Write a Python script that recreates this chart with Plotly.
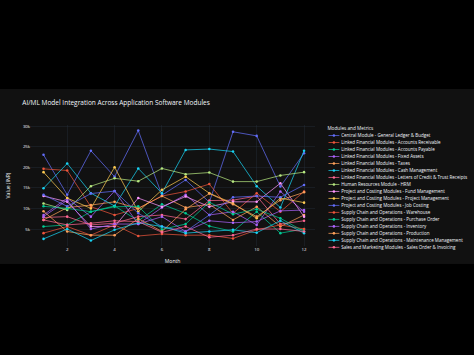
import plotly.graph_objects as go

months = list(range(1, 13))

module_names = [
    "Central Module - General Ledger & Budget",
    "Linked Financial Modules - Accounts Receivable",
    "Linked Financial Modules - Accounts Payable",
    "Linked Financial Modules - Fixed Assets",
    "Linked Financial Modules - Taxes",
    "Linked Financial Modules - Cash Management",
    "Linked Financial Modules - Letters of Credit & Trust Receipts",
    "Human Resources Module - HRM",
    "Project and Costing Modules - Fund Management",
    "Project and Costing Modules - Project Management",
    "Project and Costing Modules - Job Costing",
    "Supply Chain and Operations - Warehouse",
    "Supply Chain and Operations - Purchase Order",
    "Supply Chain and Operations - Inventory",
    "Supply Chain and Operations - Production",
    "Supply Chain and Operations - Maintenance Management",
    "Sales and Marketing Modules - Sales Order & Invoicing",
]

general_ledger = [23000, 13300, 24000, 17700, 28900, 13200, 16900, 11500, 28600, 27600, 15300, 23400]
accounts_receivable = [19600, 19200, 10400, 8400, 10000, 13000, 14100, 15900, 8800, 13700, 9200, 14100]
accounts_payable = [5600, 6000, 9200, 10600, 7000, 11000, 8800, 5700, 4400, 9200, 4000, 5000]
fixed_assets = [8400, 12500, 8000, 14200, 6200, 10200, 13300, 8400, 9200, 6000, 14100, 9200]
taxes = [7200, 10200, 10800, 11600, 10000, 13000, 10200, 11000, 7200, 10400, 5600, 8400]
cash_management = [14900, 20900, 13700, 10600, 19700, 13700, 24200, 24400, 23800, 15400, 10200, 24000]
letters_of_credit = [7800, 8000, 6000, 6400, 8000, 8400, 7400, 11900, 12000, 13000, 6200, 7000]
hrm = [11200, 9600, 15400, 17300, 16600, 19700, 18300, 18700, 16500, 16500, 18000, 18800]
fund_management = [13000, 11600, 5600, 5600, 12500, 10400, 12900, 10400, 11600, 11600, 16100, 8000]
project_management = [18800, 12500, 10000, 20000, 9200, 14500, 17700, 13700, 11200, 7600, 12500, 11400]
job_costing = [13300, 10500, 13600, 14200, 8800, 5600, 4400, 8400, 12700, 13000, 12700, 15700]
warehouse = [4000, 5600, 3500, 6000, 3300, 3800, 3500, 3500, 2700, 4800, 6000, 5000]
purchase_order = [10500, 10000, 9200, 10400, 10500, 4900, 6200, 11500, 8600, 9800, 7600, 4400]
inventory = [8000, 12000, 5000, 6200, 6200, 8000, 4400, 7000, 6500, 6800, 9400, 9600]
production = [9300, 4400, 3500, 3500, 7500, 4400, 9800, 13600, 11000, 8000, 12000, 13900]
maintenance = [2600, 5000, 2200, 4800, 6500, 5600, 4000, 4400, 4800, 4100, 7000, 4000]
sales_order = [7200, 6000, 6400, 7000, 6800, 4200, 5600, 3000, 3500, 5000, 5000, 4400]

series_values = [
    general_ledger, accounts_receivable, accounts_payable, fixed_assets, taxes,
    cash_management, letters_of_credit, hrm, fund_management, project_management,
    job_costing, warehouse, purchase_order, inventory, production, maintenance,
    sales_order,
]

fig = go.Figure()
for name, vals in zip(module_names, series_values):
    fig.add_trace(go.Scatter(x=months, y=vals, mode="lines+markers", name=name,
                             marker=dict(size=7)))

fig.update_layout(
    template="plotly_dark",
    width=1306,
    height=482,
    margin=dict(l=84, r=439, t=100, b=50),
    title=dict(text="AI/ML Model Integration Across Application Software Modules",
               x=0.047, xanchor="left", y=0.92, yanchor="middle", font=dict(size=18)),
    xaxis=dict(title=dict(text="Month", standoff=22), range=[0.45, 12.45], automargin=False),
    yaxis=dict(title=dict(text="Value (INR)", standoff=30), range=[920, 30170], automargin=False),
    legend=dict(title=dict(text="Modules and Metrics", font=dict(size=13)),
                font=dict(size=12.5), x=1.042, y=1.01, yanchor="top",
                maxheight=460),
)

post_js = """
var gd = document.getElementById('{plot_id}');
document.documentElement.style.background = '#000';
document.body.style.background = '#000';
document.body.style.margin = '0';
document.body.style.overflow = 'hidden';
document.documentElement.style.overflow = 'hidden';
gd.style.transformOrigin = '0 0';
gd.style.transform = 'translate(0px, 89px) scale(0.363)';
"""

fig.write_html("out.html", config={"displayModeBar": False}, post_script=post_js)
